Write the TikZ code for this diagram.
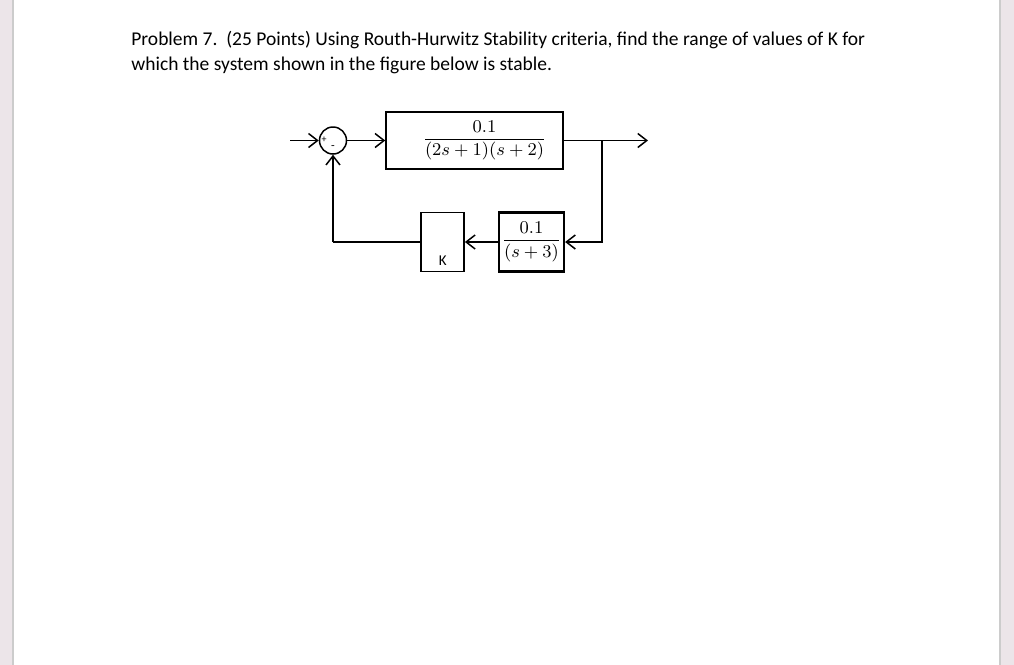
\documentclass[tikz,border=0pt]{standalone}
\usepackage{amsmath}
\usepackage{fontspec}
\setmainfont{Carlito}
\usetikzlibrary{positioning,arrows.meta,calc}
\definecolor{pageside}{RGB}{236,229,233}
\tikzset{
	block base/.style={draw, rectangle, line width=0.75pt, inner sep=0pt},
	sum base/.style={draw, circle, line width=0.75pt, minimum size=13.5pt, inner sep=0pt},
	signal/.style={-{Straight Barb[length=4.5pt,width=7pt]}, line width=0.75pt},
	wire/.style={line width=0.75pt},
}

\begin{document}
\begin{tikzpicture}[x=0.5pt,y=-0.5pt]
	% page and side strips
	\useasboundingbox (0,0) rectangle (1014,665);
	\fill [white] (0,0) rectangle (1014,665);
	\fill [pageside] (0,0) rectangle (13,665);
	\fill [pageside] (1000,0) rectangle (1014,665);
	\draw [gray!40, line width=0.6pt] (13,0) -- (13,665);
	\draw [gray!40, line width=0.6pt] (1000,0) -- (1000,665);

	% problem text
	\node [anchor=north west, align=left, inner sep=0pt, font=\fontsize{9.75}{12.25}\selectfont] (question) at (131,31)
		{Problem 7.\ \ (25 Points) Using Routh-Hurwitz Stability criteria, find the range of values of K for\\
		which the system shown in the figure below is stable.};

	% forward path
	\node [sum base] (sum) at (333,140.5) {};
	\node [font=\fontsize{5}{6}\selectfont, inner sep=0pt] (plus) at ($(sum.center)+(-9,-1)$) {+};
	\node [font=\fontsize{6}{6}\selectfont, inner sep=0pt] (minus) at ($(sum.center)+(0,7)$) {-};
	\node [block base,minimum width=88.5pt,minimum height=28.5pt,font=\fontsize{8.6}{10}\selectfont] (plant) at (474.5,140.5) {\hspace{10pt}$\dfrac{0.1}{(2s+1)(s+2)}$};
	\coordinate (input) at (290,140.5);
	\coordinate (branch) at (602,140.5);
	\coordinate (output) at (648,140.5);

	% feedback path
	\node [block base,line width=1.1pt,minimum width=32.5pt,minimum height=29.5pt,font=\fontsize{8.6}{10}\selectfont] (sensor) at (531.5,242) {$\dfrac{0.1}{(s+3)}$};
	\node [block base,minimum width=21.5pt,minimum height=29.5pt,left=16.5pt of sensor,
		label={[anchor=south,inner sep=3pt,font=\fontsize{7.5}{9}\selectfont]south:K}] (gain) {};
	\coordinate (corner) at (sum |- gain.west);

	\draw [signal] (input) -- (sum.west);
	\draw [signal] (sum.east) -- (plant.west);
	\draw [signal] (plant.east) -- (output);
	\draw [signal] (branch) |- (sensor.east);
	\draw [signal] (sensor.west) -- (gain.east);
	\draw [wire] (gain.west) -- (corner);
	\draw [signal] (corner) -- (sum.south);
\end{tikzpicture}
\end{document}
